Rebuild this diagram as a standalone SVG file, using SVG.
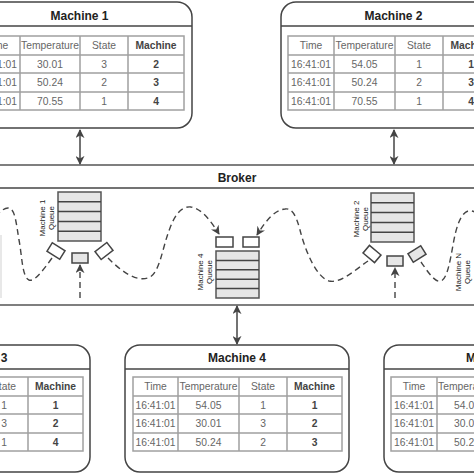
<svg xmlns="http://www.w3.org/2000/svg" width="474" height="474" viewBox="0 0 474 474">
<defs>
<style>
.box{fill:#fff;stroke:#444;stroke-width:1.5}
.hdr{stroke:#444;stroke-width:1.5}
.cell{fill:#fff;stroke:#a0a0a0;stroke-width:1.5}
.title{font-family:"Liberation Sans",Arial,sans-serif;font-size:12px;font-weight:bold;fill:#222;text-anchor:middle}
.t{font-family:"Liberation Sans",Arial,sans-serif;font-size:10.3px;fill:#666;text-anchor:middle}
.tb{font-family:"Liberation Sans",Arial,sans-serif;font-size:10.3px;fill:#444;font-weight:bold;text-anchor:middle}
.q{font-family:"Liberation Sans",Arial,sans-serif;font-size:8px;fill:#222;text-anchor:middle}
.qs{fill:#e6e6e6;stroke:#555;stroke-width:1.5}
.ib{fill:#fff;stroke:#444;stroke-width:1.5}
.ibg{fill:#e6e6e6;stroke:#444;stroke-width:1.5}
.dash{fill:none;stroke:#444;stroke-width:1.4;stroke-dasharray:6 4}
.solid{fill:none;stroke:#444;stroke-width:1.5}
.broker{fill:#fff;stroke:#555;stroke-width:1.5}
</style>
<marker id="ah" viewBox="0 0 10 10" refX="9" refY="5" markerWidth="9" markerHeight="9" markerUnits="userSpaceOnUse" orient="auto-start-reverse">
<path d="M0,0 L10,5 L0,10 L3,5 z" fill="#444"/>
</marker>
</defs>

<!-- Broker -->
<g id="broker">
<rect class="broker" x="-60" y="165" width="600" height="140"/>
<line class="hdr" x1="-60" y1="188" x2="540" y2="188" stroke="#555"/>
<text class="title" x="237" y="182">Broker</text>
</g>

<!-- Queues -->
<g id="queue3">
<rect x="-30" y="235" width="32" height="63" fill="#e8e8e8"/>
</g>

<g id="queue1">
<rect class="qs" x="58" y="192" width="43" height="49"/>
<path class="solid" d="M58,201.8H101M58,211.6H101M58,221.4H101M58,231.2H101" stroke="#555"/>
<text class="q" transform="translate(45,218) rotate(-90)"><tspan x="0" y="0">Machine 1</tspan><tspan x="0" y="9">Queue</tspan></text>
<rect class="ib" x="-7.5" y="-5" width="15" height="10" transform="translate(56,251) rotate(32)"/>
<rect class="ibg" x="72" y="253" width="16" height="10"/>
<rect class="ib" x="-7.5" y="-5" width="15" height="10" transform="translate(104,251) rotate(-38)"/>
</g>

<g id="queue2">
<rect class="qs" x="371" y="193" width="43" height="49"/>
<path class="solid" d="M371,202.8H414M371,212.6H414M371,222.4H414M371,232.2H414" stroke="#555"/>
<text class="q" transform="translate(359,219) rotate(-90)"><tspan x="0" y="0">Machine 2</tspan><tspan x="0" y="9">Queue</tspan></text>
<rect class="ib" x="-7.5" y="-5" width="15" height="10" transform="translate(372,254) rotate(40)"/>
<rect class="ibg" x="387" y="256" width="16" height="10"/>
<rect class="ibg" x="-7.5" y="-5" width="15" height="10" transform="translate(417,254) rotate(-32)"/>
</g>

<g id="queue4">
<rect class="qs" x="216" y="251" width="43" height="47"/>
<path class="solid" d="M216,260.4H259M216,269.8H259M216,279.2H259M216,288.6H259" stroke="#555"/>
<text class="q" transform="translate(203,272) rotate(-90)"><tspan x="0" y="0">Machine 4</tspan><tspan x="0" y="9">Queue</tspan></text>
<rect class="ib" x="216" y="237" width="17" height="10"/>
<rect class="ib" x="243" y="237" width="16" height="10"/>
</g>

<g id="queueN">
<text class="q" transform="translate(461,272) rotate(-90)"><tspan x="0" y="0">Machine N</tspan><tspan x="0" y="9">Queue</tspan></text>
</g>

<!-- Connectors -->
<g id="connectors">
<line class="solid" x1="80" y1="130" x2="80" y2="164" marker-start="url(#ah)" marker-end="url(#ah)"/>
<line class="solid" x1="394" y1="130" x2="394" y2="164" marker-start="url(#ah)" marker-end="url(#ah)"/>
<line class="solid" x1="237" y1="306" x2="237" y2="344" marker-start="url(#ah)" marker-end="url(#ah)"/>
<path class="dash" d="M52,258 C42,272 34,282 29,280 C22,277 22,255 19,240 C16,222 15,208 8,208 C4,208 1,211 -4,216"/>
<path class="dash" d="M108,258 C120,270 135,282 148,278 C160,274 162,248 170,228 C176,212 183,206 191,207 C201,208 211,221 219,234" marker-end="url(#ah)"/>
<path class="dash" d="M368,261 C355,270 340,284 329,281 C316,277 305,250 300,230 C296,215 292,208 285,209 C274,210 265,222 257,235" marker-end="url(#ah)"/>
<path class="dash" d="M421,262 C428,272 435,283 441,281 C447,279 450,262 453,245 C456,228 460,214 468,211 C472,210 476,212 480,216"/>
<line class="dash" x1="80" y1="298" x2="80" y2="265" marker-end="url(#ah)"/>
<line class="dash" x1="395" y1="298" x2="395" y2="268" marker-end="url(#ah)"/>
</g>

<!-- Machine 1 -->
<g id="machine1">
<rect class="box" x="-33" y="2" width="225" height="126" rx="15"/>
<line class="hdr" x1="-33" y1="26" x2="192" y2="26"/>
<text class="title" x="79.5" y="20">Machine 1</text>
<rect class="cell" x="-26" y="36" width="210" height="74"/>
<path class="cell" fill="none" d="M-26,55H184M-26,73H184M-26,92H184M20,36V110M80,36V110M128,36V110"/>
<text class="t" x="-3" y="49">Time</text><text class="t" x="50" y="49">Temperature</text><text class="t" x="104" y="49">State</text><text class="tb" x="156" y="49">Machine</text>
<text class="t" x="-3" y="67.5">16:41:01</text><text class="t" x="50" y="67.5">30.01</text><text class="t" x="104" y="67.5">3</text><text class="tb" x="156" y="67.5">2</text>
<text class="t" x="-3" y="86">16:41:01</text><text class="t" x="50" y="86">50.24</text><text class="t" x="104" y="86">2</text><text class="tb" x="156" y="86">3</text>
<text class="t" x="-3" y="104.5">16:41:01</text><text class="t" x="50" y="104.5">70.55</text><text class="t" x="104" y="104.5">1</text><text class="tb" x="156" y="104.5">4</text>
</g>

<!-- Machine 2 -->
<g id="machine2">
<rect class="box" x="281" y="2" width="225" height="126" rx="15"/>
<line class="hdr" x1="281" y1="26" x2="506" y2="26"/>
<text class="title" x="393.5" y="20">Machine 2</text>
<rect class="cell" x="288" y="36" width="211" height="74"/>
<path class="cell" fill="none" d="M288,55H499M288,73H499M288,92H499M334,36V110M395,36V110M443,36V110"/>
<text class="t" x="311" y="49">Time</text><text class="t" x="364.5" y="49">Temperature</text><text class="t" x="419" y="49">State</text><text class="tb" x="471" y="49">Machine</text>
<text class="t" x="311" y="67.5">16:41:01</text><text class="t" x="364.5" y="67.5">54.05</text><text class="t" x="419" y="67.5">1</text><text class="tb" x="471" y="67.5">1</text>
<text class="t" x="311" y="86">16:41:01</text><text class="t" x="364.5" y="86">50.24</text><text class="t" x="419" y="86">2</text><text class="tb" x="471" y="86">3</text>
<text class="t" x="311" y="104.5">16:41:01</text><text class="t" x="364.5" y="104.5">70.55</text><text class="t" x="419" y="104.5">1</text><text class="tb" x="471" y="104.5">4</text>
</g>

<!-- Machine 3 -->
<g id="machine3">
<rect class="box" x="-133" y="345" width="223" height="127" rx="15"/>
<line class="hdr" x1="-133" y1="369" x2="90" y2="369"/>
<text class="title" x="-21.5" y="362">Machine 3</text>
<rect class="cell" x="-126" y="377" width="209" height="74"/>
<path class="cell" fill="none" d="M-126,396H83M-126,414H83M-126,433H83M-80,377V451M-20,377V451M28,377V451"/>
<text class="t" x="4" y="390">State</text><text class="tb" x="55.5" y="390">Machine</text>
<text class="t" x="4" y="408.5">1</text><text class="tb" x="55.5" y="408.5">1</text>
<text class="t" x="4" y="427">3</text><text class="tb" x="55.5" y="427">2</text>
<text class="t" x="4" y="445.5">1</text><text class="tb" x="55.5" y="445.5">4</text>
</g>

<!-- Machine 4 -->
<g id="machine4">
<rect class="box" x="125" y="345" width="224" height="127" rx="15"/>
<line class="hdr" x1="125" y1="369" x2="349" y2="369"/>
<text class="title" x="237" y="362">Machine 4</text>
<rect class="cell" x="133" y="377" width="209" height="74"/>
<path class="cell" fill="none" d="M133,396H342M133,414H342M133,433H342M178,377V451M239,377V451M287,377V451"/>
<text class="t" x="155.5" y="390">Time</text><text class="t" x="208.5" y="390">Temperature</text><text class="t" x="263" y="390">State</text><text class="tb" x="314.5" y="390">Machine</text>
<text class="t" x="155.5" y="408.5">16:41:01</text><text class="t" x="208.5" y="408.5">54.05</text><text class="t" x="263" y="408.5">1</text><text class="tb" x="314.5" y="408.5">1</text>
<text class="t" x="155.5" y="427">16:41:01</text><text class="t" x="208.5" y="427">30.01</text><text class="t" x="263" y="427">3</text><text class="tb" x="314.5" y="427">2</text>
<text class="t" x="155.5" y="445.5">16:41:01</text><text class="t" x="208.5" y="445.5">50.24</text><text class="t" x="263" y="445.5">2</text><text class="tb" x="314.5" y="445.5">3</text>
</g>

<!-- Machine N -->
<g id="machineN">
<rect class="box" x="384" y="345" width="224" height="127" rx="15"/>
<line class="hdr" x1="384" y1="369" x2="608" y2="369"/>
<text class="title" x="496" y="362">Machine N</text>
<rect class="cell" x="391" y="377" width="209" height="74"/>
<path class="cell" fill="none" d="M391,396H600M391,414H600M391,433H600M437,377V451M497,377V451M545,377V451"/>
<text class="t" x="414" y="390">Time</text><text class="t" x="467" y="390">Temperature</text>
<text class="t" x="414" y="408.5">16:41:01</text><text class="t" x="467" y="408.5">54.05</text>
<text class="t" x="414" y="427">16:41:01</text><text class="t" x="467" y="427">30.01</text>
<text class="t" x="414" y="445.5">16:41:01</text><text class="t" x="467" y="445.5">50.24</text>
</g>
</svg>
